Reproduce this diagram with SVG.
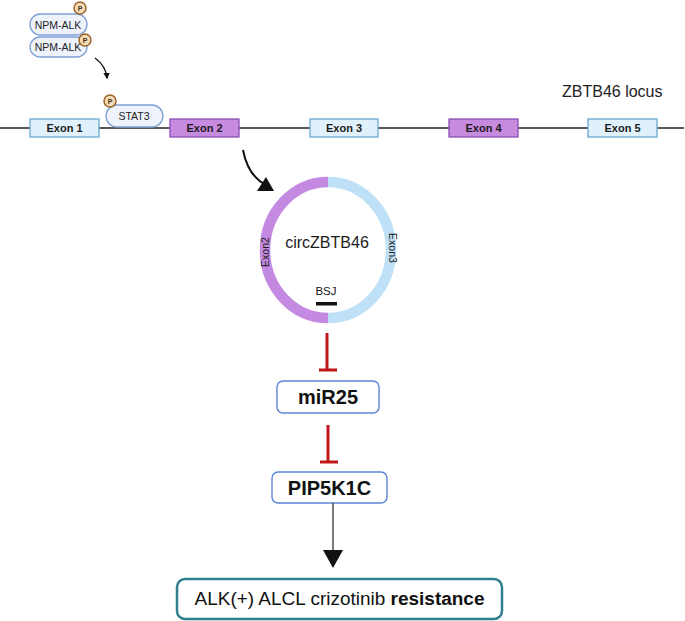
<svg xmlns="http://www.w3.org/2000/svg" width="685" height="621" viewBox="0 0 685 621">
<style>
.pill{fill:#edf2fb;stroke:#7f9fd6;stroke-width:1.3}
.pc{fill:#f5dcb8;stroke:#9c6428;stroke-width:1.5}
.pt{font-family:"Liberation Sans",Arial,sans-serif;font-size:7px;font-weight:bold;fill:#4a2e10;text-anchor:middle}
.lt{font-family:"Liberation Sans",Arial,sans-serif;font-size:10.5px;fill:#222;text-anchor:middle}
.ex1{fill:#e0f1fb;stroke:#6aa6cf;stroke-width:1.3}
.ex2{fill:#c68ade;stroke:#8c4db3;stroke-width:1.3}
.et{font-family:"Liberation Sans",Arial,sans-serif;font-size:11px;font-weight:bold;fill:#1c1c1c;text-anchor:middle}
.box{fill:#fff;stroke:#5b86d6;stroke-width:1.4}
.bt{font-family:"Liberation Sans",Arial,sans-serif;font-weight:bold;font-size:20px;fill:#111;text-anchor:middle}
.inh{stroke:#c0161a;stroke-width:3;fill:none}
.rl{font-family:"Liberation Sans",Arial,sans-serif;font-size:10.5px;fill:#1c1c1c;text-anchor:middle}
</style>
<defs>
<marker id="ah" viewBox="0 0 10 10" refX="8" refY="5" markerWidth="5" markerHeight="5" orient="auto"><path d="M0,0 L10,5 L0,10 z" fill="#111"/></marker>
</defs>
<rect width="685" height="621" fill="#fff"/>
<g id="locus">
<line x1="0" y1="128" x2="684" y2="128" stroke="#222" stroke-width="1.6"/>
<text x="562" y="97" font-family="'Liberation Sans',Arial,sans-serif" font-size="16" fill="#222">ZBTB46 locus</text>
</g>
<g id="exon1"><rect class="ex1" x="30" y="119" width="69" height="18"/><text class="et" x="64.5" y="132">Exon 1</text></g>
<g id="exon2"><rect class="ex2" x="170" y="119" width="69" height="18"/><text class="et" x="204.5" y="132">Exon 2</text></g>
<g id="exon3"><rect class="ex1" x="310" y="119" width="68" height="18"/><text class="et" x="344" y="132">Exon 3</text></g>
<g id="exon4"><rect class="ex2" x="449" y="119" width="69" height="18"/><text class="et" x="483.5" y="132">Exon 4</text></g>
<g id="exon5"><rect class="ex1" x="588" y="119" width="69" height="18"/><text class="et" x="622.5" y="132">Exon 5</text></g>
<g id="npmalk1"><rect class="pill" x="30" y="14" width="57" height="21" rx="10.5"/><text class="lt" x="58" y="28.5">NPM-ALK</text><circle class="pc" cx="80" cy="8" r="6"/><text class="pt" x="80" y="10.5">P</text></g>
<g id="npmalk2"><rect class="pill" x="30" y="37" width="57" height="20" rx="10"/><text class="lt" x="58" y="51">NPM-ALK</text><circle class="pc" cx="85" cy="40" r="6"/><text class="pt" x="85" y="42.5">P</text></g>
<g id="stat3"><rect class="pill" x="106" y="105" width="57" height="22" rx="11"/><text class="lt" x="134" y="120">STAT3</text><circle class="pc" cx="110" cy="101" r="6"/><text class="pt" x="110" y="103.5">P</text></g>
<g id="circ">
<path d="M328,182 A63,68 0 0 0 328,318" fill="none" stroke="#c489e0" stroke-width="10.5"/>
<path d="M328,182 A63,68 0 0 1 328,318" fill="none" stroke="#bfe1f8" stroke-width="10.5"/>
<text x="327" y="248" font-family="'Liberation Sans',Arial,sans-serif" font-size="16" fill="#1c1c1c" text-anchor="middle">circZBTB46</text>
<text class="rl" transform="translate(268.5,252) rotate(-90)">Exon2</text>
<text class="rl" transform="translate(388.5,248) rotate(90)">Exon3</text>
<text x="326" y="295" font-family="'Liberation Sans',Arial,sans-serif" font-size="11.5" fill="#111" text-anchor="middle">BSJ</text>
<rect x="316" y="302" width="21" height="3.5" fill="#111"/>
</g>
<g id="mir25"><rect class="box" x="277" y="381" width="102" height="32" rx="6"/><text class="bt" x="328" y="404" font-size="21">miR25</text></g>
<g id="pip5k1c"><rect class="box" x="272" y="472" width="115" height="31" rx="6"/><text class="bt" x="329.5" y="495">PIP5K1C</text></g>
<g id="resistance"><rect x="177" y="579" width="325" height="40" rx="8" fill="#fff" stroke="#2f7f8c" stroke-width="2.5"/><text x="339.5" y="605" font-family="'Liberation Sans',Arial,sans-serif" font-size="18" fill="#111" text-anchor="middle" textLength="290" lengthAdjust="spacingAndGlyphs">ALK(+) ALCL crizotinib <tspan font-weight="bold">resistance</tspan></text></g>
<g id="connectors">
<path d="M95,58 Q106,66 107,78" fill="none" stroke="#111" stroke-width="1.3" marker-end="url(#ah)"/>
<path d="M243,150 Q248,176 266,185" fill="none" stroke="#111" stroke-width="2"/>
<path d="M274,191 L257,191 L266,177 z" fill="#111"/>
<line class="inh" x1="327" y1="333" x2="327" y2="370"/>
<line class="inh" x1="319" y1="370" x2="337" y2="370"/>
<line class="inh" x1="328" y1="425" x2="328" y2="462"/>
<line class="inh" x1="320" y1="462" x2="338" y2="462"/>
<line x1="333" y1="503" x2="333" y2="552" stroke="#333" stroke-width="1.3"/>
<path d="M323,550 L343,550 L333,568 z" fill="#111"/>
</g>
</svg>
